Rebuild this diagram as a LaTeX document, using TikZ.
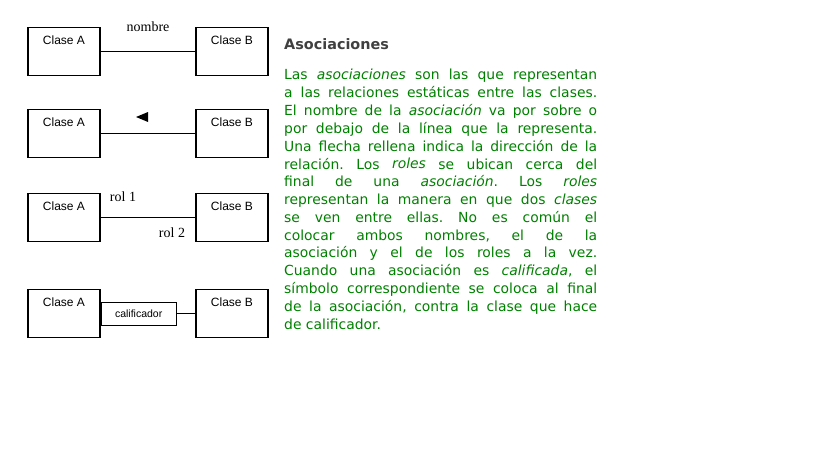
\documentclass[tikz,border=0pt]{standalone}
\usepackage{fontspec}
\usepackage{tikz}
\newfontfamily\arialfont{Liberation Sans}
\newfontfamily\timesfont{Liberation Serif}
\newfontfamily\verdanafont{DejaVu Sans}
\definecolor{textgreen}{RGB}{0,128,0}
\definecolor{headgray}{RGB}{64,64,64}

\begin{document}
\begin{tikzpicture}[x=1pt, y=-1pt,
    clase/.style={draw, line width=1.3pt, minimum width=72pt, inner sep=0pt,
      text height=17pt, text depth=31pt, font=\arialfont\fontsize{12}{14}\selectfont},
    calif/.style={draw, line width=1pt, minimum width=75pt, minimum height=23pt,
      inner sep=0pt, font=\arialfont\fontsize{10.5}{12}\selectfont},
    rol/.style={inner sep=0pt, font=\timesfont\fontsize{14}{16}\selectfont},
    asoc/.style={line width=1.3pt}]
  \useasboundingbox (0,0) rectangle (819,460);
    \begin{scope}[shift={(0,0)}]
      \node[clase, anchor=north] (a1) at (64,27) {Clase A};
      \node[clase, anchor=north] (b1) at (232,27) {Clase B};
      \draw[asoc] (a1) -- (b1);
      \node[rol, anchor=base] (nombre) at (148,32) {nombre};
    \end{scope}
    \begin{scope}[shift={(0,82)}]
      \node[clase, anchor=north] (a2) at (64,27) {Clase A};
      \node[clase, anchor=north] (b2) at (232,27) {Clase B};
      \draw[asoc] (a2) -- (b2);
      \fill (136,35) -- (148,30) -- (148,40) -- cycle;
    \end{scope}
    \begin{scope}[shift={(0,166)}]
      \node[clase, anchor=north] (a3) at (64,27) {Clase A};
      \node[clase, anchor=north] (b3) at (232,27) {Clase B};
      \draw[asoc] (a3) -- (b3);
      \node[rol, anchor=base] (rol1) at (123,35) {rol 1};
      \node[rol, anchor=base] (rol2) at (172,71) {rol 2};
    \end{scope}
    \begin{scope}[shift={(0,262)}]
      \node[clase, anchor=north] (a4) at (64,27) {Clase A};
      \node[clase, anchor=north] (b4) at (232,27) {Clase B};
      \node[calif, anchor=west] (c4) at (a4.east) {calificador};
      \draw[asoc] (c4) -- (b4);
    \end{scope}
  % texto
  \node[anchor=base west, inner sep=0pt, text=headgray,
    font=\verdanafont\bfseries\fontsize{14.4}{16}\selectfont] (titulo) at (284,49) {Asociaciones};
  \node[anchor=base west, inner sep=0pt, text=textgreen, text width=313pt, align=justify,
    font=\verdanafont\fontsize{13.9}{17.8}\selectfont\frenchspacing] (parrafo) at (284,80)
    {Las \textit{asociaciones} son las que representan\linebreak
     a las relaciones estáticas entre las clases.\linebreak
     El nombre de la \textit{asociación} va por sobre o\linebreak
     por debajo de la línea que la representa.\linebreak
     Una flecha rellena indica la dirección de la\linebreak
     relación. Los \textit{roles} se ubican cerca del\linebreak
     final de una \textit{asociación}. Los \textit{roles}\linebreak
     representan la manera en que dos \textit{clases}\linebreak
     se ven entre ellas. No es común el\linebreak
     colocar ambos nombres, el de la\linebreak
     asociación y el de los roles a la vez.\linebreak
     Cuando una asociación es \textit{calificada}, el\linebreak
     símbolo correspondiente se coloca al final\linebreak
     de la asociación, contra la clase que hace\linebreak
     de calificador.};
\end{tikzpicture}
\end{document}
